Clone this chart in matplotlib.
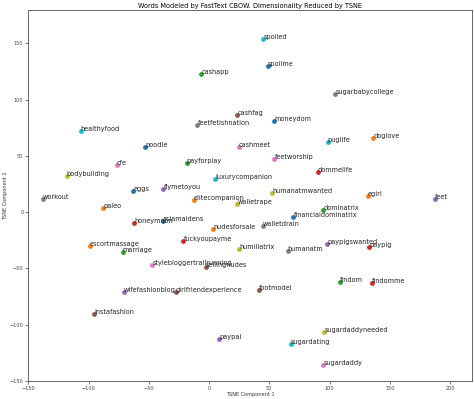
"""t-SNE scatter of FastText CBOW word vectors, one annotated point per word."""

import matplotlib
matplotlib.use("Agg")
import matplotlib.pyplot as plt

# words in plotting order (colour comes from the default cycle)
words = [
    "poodle", "doglove", "cashapp", "dommelife", "flymetoyou", "cashfag", "cfe",
    "workout", "bodybuilding", "healthyfood",
    "eggs", "egirl", "payforplay", "honeymoon", "feet", "sellingnudes", "cashmeet",
    "feetfetishnation", "humanatmwanted", "luxurycompanion",
    "spoilme", "paleo", "marriage", "fuckyoupayme", "wifefashionblog", "instafashion",
    "feetworship", "sugarbabycollege", "walletrape", "spoiled",
    "moneydom", "elitecompanion", "dominatrix", "paypig", "paypal", "footmodel",
    "stylebloggertrailrunning", "walletdrain", "humiliatrix", "puglife",
    "asiamaidens", "nudesforsale", "findom", "findomme", "paypigswanted",
    "girlfriendexperience", "sugardaddy", "humanatm", "sugardaddyneeded", "sugardating",
    "financialdominatrix", "escortmassage",
]
tsne_x = [
    -52.9, 136.4, -6.4, 90.2, -37.9, 23.5, -76.3, -138.0, -118.0, -106.5,
    -62.8, 131.7, -18.5, -62.2, 187.6, -2.8, 24.9, -9.7, 52.6, 5.0,
    49.0, -87.7, -71.6, -21.3, -70.5, -95.4, 54.2, 104.8, 23.5, 45.0,
    53.9, -12.4, 94.9, 132.8, 8.6, 41.7, -47.0, 44.5, 24.9, 98.5,
    -38.4, 3.6, 108.7, 135.5, 97.9, -27.7, 94.9, 65.3, 95.7, 67.8,
    70.0, -98.8,
]
tsne_y = [
    58.3, 66.0, 123.2, 35.4, 20.8, 86.6, 42.0, 12.2, 32.4, 72.3,
    18.8, 14.6, 44.0, -9.5, 11.6, -48.8, 58.3, 77.7, 16.7, 29.5,
    130.4, 3.8, -35.4, -25.6, -70.5, -90.8, 47.3, 105.4, 7.1, 154.2,
    81.5, 10.7, 1.8, -31.0, -112.8, -69.0, -46.7, -11.9, -32.7, 62.8,
    -8.0, -14.6, -61.9, -62.5, -28.6, -70.5, -135.7, -34.5, -106.5, -117.3,
    -4.2, -30.4,
]

fig = plt.figure(figsize=(4.74, 3.99), dpi=100)
ax = fig.add_axes([0.0597, 0.0451, 0.9367, 0.9306])

for w, x, y in zip(words, tsne_x, tsne_y):
    ax.scatter(x, y, s=12, linewidths=0)
    ax.annotate(w, xy=(x, y), fontsize=4.7, color="#222222")

ax.set_xlim(-150, 218.5)
ax.set_ylim(-150, 180)
ax.set_xticks([-150, -100, -50, 0, 50, 100, 150, 200])
ax.set_yticks([-150, -100, -50, 0, 50, 100, 150])
ax.tick_params(labelsize=3.6, length=2, width=0.5, pad=1.5, colors="#444444")
for sp in ax.spines.values():
    sp.set_linewidth(0.7)
    sp.set_color("#666666")

ax.set_title("Words Modeled by FastText CBOW. Dimensionality Reduced by TSNE",
             fontsize=4.7, pad=1.5)
ax.set_xlabel("TSNE Component 1", fontsize=3.6, labelpad=1, color="#333333")
ax.set_ylabel("TSNE Component 2", fontsize=3.6, labelpad=1, color="#333333")

plt.savefig("out.png", dpi=100)
plt.close()
